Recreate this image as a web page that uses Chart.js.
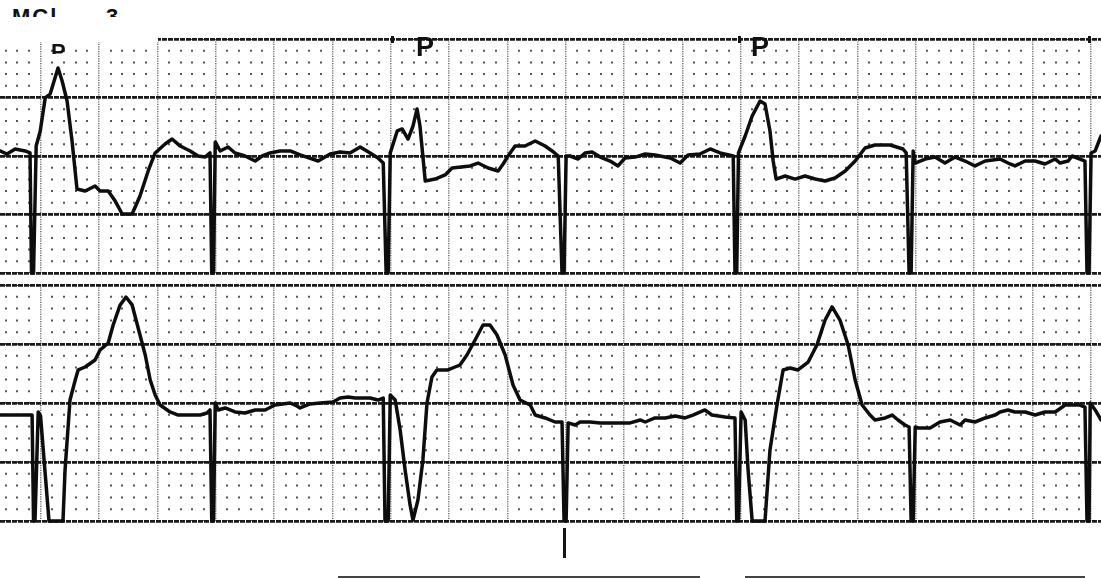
<!DOCTYPE html>
<html>
<head>
<meta charset="utf-8">
<title>MCl 3</title>
<script src="https://cdn.jsdelivr.net/npm/chart.js@4.4.1/dist/chart.umd.min.js"></script>
<style>
  html, body { margin: 0; padding: 0; background: #fff; }
  body { width: 1101px; height: 578px; position: relative; overflow: hidden;
         font-family: "Liberation Sans", Arial, Helvetica, sans-serif; }
  canvas { position: absolute; left: -3px; }
  .txt { position: absolute; overflow: hidden; color: #111; font-weight: 700; white-space: nowrap; z-index: 3; }
  .mark { position: absolute; background: #151515; z-index: 2; }
  .mask { position: absolute; background: #fff; z-index: 1; }
</style>
</head>
<body>
<canvas id="topStrip" width="1107" height="240" style="top:36px"></canvas>
<canvas id="bottomStrip" width="1107" height="242" style="top:282px"></canvas>

<!-- paper edge: the top rule is missing at the far left -->
<div class="mask" style="left:0;top:35px;width:158px;height:7px"></div>

<div class="txt" style="left:12px;top:6px;height:11px;font-size:22px;line-height:22px;letter-spacing:2px">MCl</div>
<div class="txt" style="left:106px;top:6px;height:11px;font-size:22px;line-height:22px">3</div>
<div class="txt" style="left:51px;top:41px;height:13px;font-size:22px;line-height:22px">P</div>
<div class="txt" style="left:416px;top:34px;height:27px;font-size:27px;line-height:27px">P</div>
<div class="txt" style="left:751px;top:34px;height:27px;font-size:27px;line-height:27px">P</div>

<div class="mark" style="left:391px;top:36px;width:3px;height:7px"></div>
<div class="mark" style="left:738px;top:36px;width:3px;height:7px"></div>
<div class="mark" style="left:1088px;top:36px;width:3px;height:7px"></div>
<div class="mark" style="left:563px;top:528px;width:3px;height:30px"></div>
<div class="mark" style="left:338px;top:576px;width:362px;height:2px;background:#444"></div>
<div class="mark" style="left:745px;top:576px;width:340px;height:2px;background:#444"></div>

<script>
// Zeitachse in Sekunden (25 mm/s), Amplitude in mV (10 mm/mV)
const xMin = -0.14;
const xMax = 3.635;
const yMin = -1.0;
const yMax = 1.0;

// obere Ableitung
const topTime = [
  -0.140, -0.116, -0.088, -0.054, -0.037, -0.032, -0.025,
  -0.016, -0.002, 0.015, 0.032, 0.059, 0.073, 0.090, 0.107, 0.124, 0.152, 0.186, 0.203, 0.231, 0.255,
  0.279, 0.313, 0.340, 0.368, 0.392, 0.426, 0.450, 0.478, 0.512, 0.539, 0.563, 0.580, 0.586, 0.592,
  0.598, 0.615, 0.642, 0.666, 0.700, 0.735, 0.759, 0.786, 0.820, 0.855, 0.889, 0.951, 0.992, 1.026,
  1.060, 1.095, 1.129, 1.156, 1.174, 1.184, 1.191,
  1.198, 1.222, 1.239, 1.259, 1.276, 1.290, 1.300, 1.318, 1.352, 1.386, 1.410, 1.472, 1.499, 1.534,
  1.568, 1.585, 1.602, 1.626, 1.660, 1.695, 1.729, 1.753, 1.774, 1.787, 1.794,
  1.801, 1.815, 1.842, 1.866, 1.890, 1.918, 1.952, 1.979, 2.003, 2.038, 2.072, 2.106, 2.123, 2.158,
  2.192, 2.219, 2.260, 2.295, 2.329, 2.374, 2.380, 2.386,
  2.392, 2.415, 2.439, 2.466, 2.483, 2.500, 2.511, 2.521, 2.552, 2.586, 2.620, 2.655, 2.689, 2.723,
  2.758, 2.792, 2.826, 2.860, 2.912, 2.956, 2.967, 2.977, 2.984,
  2.991, 2.998, 3.032, 3.066, 3.100, 3.135, 3.169, 3.203, 3.238, 3.289, 3.323, 3.340, 3.375, 3.409,
  3.443, 3.478, 3.495, 3.522, 3.536, 3.563, 3.580, 3.587, 3.594,
  3.601, 3.615, 3.635
];
const topMv = [
  0.043, 0.017, 0.060, 0.043, 0.026, -1.0, -1.0,
  0.085, 0.214, 0.496, 0.530, 0.752, 0.641, 0.470, 0.128, -0.282, -0.299, -0.256, -0.299, -0.299, -0.385,
  -0.496, -0.496, -0.342, -0.128, 0.026, 0.103, 0.145, 0.085, 0.043, 0, -0.009, 0.026, -1.0, -1.0,
  0.120, 0.043, 0.077, 0.026, 0, -0.043, 0, 0.026, 0.043, 0.043, 0.009, -0.043, 0.017, 0.034,
  0.026, 0.077, 0.026, -0.017, -0.060, -1.0, -1.0,
  0.026, 0.214, 0.231, 0.145, 0.256, 0.402, 0.256, -0.214, -0.197, -0.162, -0.103, -0.085, -0.060, -0.103,
  -0.128, -0.068, 0, 0.085, 0.085, 0.128, 0.085, 0.043, 0, -1.0, -1.0,
  0, 0, -0.026, 0.026, 0.034, -0.009, -0.043, -0.085, -0.017, -0.009, 0.017, 0.009, 0, -0.017,
  -0.060, 0.009, 0.017, 0.060, 0.026, 0, -1.0, -1.0,
  0.026, 0.171, 0.342, 0.470, 0.444, 0.214, -0.043, -0.197, -0.171, -0.197, -0.171, -0.197, -0.214, -0.188,
  -0.128, -0.043, 0.068, 0.094, 0.094, 0.060, 0.026, -1.0, -1.0,
  0.043, -0.060, -0.026, -0.009, -0.060, -0.009, -0.043, -0.085, -0.043, -0.026, -0.068, -0.085, -0.043, -0.043,
  -0.068, -0.026, -0.060, -0.043, 0, -0.026, -0.043, -1.0, -1.0,
  0.026, 0.043, 0.171
];

// untere Ableitung
const bottomTime = [
  -0.140, -0.030, -0.025, -0.020, -0.009, -0.001, 0.028, 0.076,
  0.083, 0.100, 0.118, 0.128, 0.152, 0.186, 0.203, 0.231, 0.248, 0.272, 0.292, 0.313, 0.340, 0.358,
  0.375, 0.392, 0.409, 0.443, 0.471, 0.512, 0.546, 0.570, 0.580,
  0.586, 0.592, 0.598, 0.608, 0.632, 0.666, 0.700, 0.735, 0.769, 0.803, 0.855, 0.872, 0.889, 0.923,
  0.958, 1.002, 1.026, 1.054, 1.078, 1.129, 1.156, 1.174,
  1.180, 1.191, 1.198, 1.215, 1.232, 1.249, 1.266, 1.276, 1.293, 1.310, 1.324, 1.341, 1.358, 1.396,
  1.420, 1.437, 1.461, 1.489, 1.516, 1.540, 1.564, 1.592, 1.619, 1.643, 1.678, 1.695, 1.729, 1.763, 1.787,
  1.794, 1.801, 1.808, 1.832, 1.849, 1.883, 1.918, 1.969, 2.021, 2.055, 2.072, 2.106, 2.141, 2.175,
  2.209, 2.236, 2.277, 2.301, 2.346, 2.380,
  2.386, 2.392, 2.401, 2.415, 2.425, 2.439, 2.483, 2.500, 2.524, 2.545, 2.569, 2.596, 2.631, 2.661,
  2.689, 2.713, 2.740, 2.768, 2.792, 2.816, 2.843, 2.860, 2.895, 2.919, 2.939, 2.963, 2.977,
  2.984, 2.991, 2.998, 3.008, 3.049, 3.083, 3.118, 3.152, 3.169, 3.203, 3.238, 3.272, 3.289, 3.316,
  3.340, 3.375, 3.409, 3.443, 3.478, 3.512, 3.563, 3.580,
  3.587, 3.594, 3.598, 3.615, 3.635
];
const bottomMv = [
  -0.102, -0.102, -1.0, -1.0, -0.076, -0.110, -1.0, -1.0,
  -0.568, 0.025, 0.195, 0.280, 0.305, 0.364, 0.449, 0.508, 0.661, 0.831, 0.898, 0.831, 0.576, 0.407,
  0.195, 0.068, -0.017, -0.076, -0.102, -0.102, -0.102, -0.085, -0.059,
  -1.0, -1.0, 0, -0.059, -0.042, -0.076, -0.085, -0.059, -0.059, -0.017, 0, -0.017, -0.042, -0.008,
  0, 0.008, 0.042, 0.051, 0.042, 0.042, 0.025, 0.042,
  -1.0, -1.0, 0.068, 0.025, -0.229, -0.568, -0.864, -0.992, -0.822, -0.483, 0, 0.220, 0.280, 0.280,
  0.305, 0.322, 0.407, 0.534, 0.661, 0.661, 0.576, 0.407, 0.153, 0.025, -0.017, -0.102, -0.127, -0.161, -0.161,
  -1.0, -1.0, -0.169, -0.186, -0.161, -0.161, -0.169, -0.169, -0.169, -0.144, -0.161, -0.127, -0.127, -0.110,
  -0.127, -0.102, -0.059, -0.102, -0.119, -0.127,
  -1.0, -1.0, -0.076, -0.144, -0.568, -1.0, -1.0, -0.398, -0.017, 0.280, 0.297, 0.280, 0.347, 0.492,
  0.703, 0.814, 0.703, 0.492, 0.195, -0.017, -0.102, -0.144, -0.127, -0.102, -0.144, -0.186, -0.203,
  -1.0, -1.0, -0.203, -0.212, -0.212, -0.161, -0.144, -0.186, -0.144, -0.161, -0.127, -0.102, -0.076, -0.059,
  -0.076, -0.076, -0.102, -0.076, -0.076, -0.017, -0.017, -0.034,
  -1.0, -1.0, 0, -0.059, -0.144
];

const PAD = 3;

// Rasterlinien: grosses Kaestchen 0,2 s / 0,5 mV, kleines 0,04 s / 0,1 mV
function gridTicks(min, max, step, skipEvery) {
  const ticks = [];
  for (let k = Math.ceil(min / step - 1e-9); k * step <= max + 1e-9; k++) {
    if (skipEvery && k % skipEvery === 0) continue;
    ticks.push({ value: +(k * step).toFixed(4) });
  }
  return ticks;
}

function drawStrip(id, times, values) {
  const canvas = document.getElementById(id);
  const dotStep = (canvas.height - 2 * PAD) / 20;
  return new Chart(canvas, {
    type: 'line',
    data: {
      datasets: [{
        data: times.map((t, i) => ({ x: t, y: values[i] })),
        xAxisID: 'x',
        yAxisID: 'y',
        borderColor: '#0d0d0d',
        borderWidth: 3.5,
        borderJoinStyle: 'round',
        borderCapStyle: 'round',
        pointRadius: 0,
        tension: 0,
        clip: 4
      }]
    },
    options: {
      responsive: false,
      animation: false,
      events: [],
      layout: { padding: PAD },
      plugins: { legend: { display: false }, tooltip: { enabled: false } },
      scales: {
        x: {
          type: 'linear', min: xMin, max: xMax,
          ticks: { display: false, autoSkip: false },
          afterBuildTicks: s => { s.ticks = gridTicks(xMin, xMax, 0.2); },
          grid: { color: '#707070', lineWidth: 1.5, drawTicks: false },
          border: { display: false, dash: [1.2, 1.2] }
        },
        xDots: {
          type: 'linear', axis: 'x', position: 'bottom', min: xMin, max: xMax,
          ticks: { display: false, autoSkip: false },
          afterBuildTicks: s => { s.ticks = gridTicks(xMin, xMax, 0.04, 5); },
          grid: { color: '#555', lineWidth: 2, drawTicks: false },
          border: { display: false, dash: [2, dotStep - 2], dashOffset: 1 }
        },
        y: {
          type: 'linear', min: yMin, max: yMax,
          ticks: { display: false, autoSkip: false },
          afterBuildTicks: s => { s.ticks = gridTicks(yMin, yMax, 0.5); },
          grid: { color: '#1a1a1a', lineWidth: 2.8, drawTicks: false },
          border: { display: false, dash: [5, 1] }
        }
      }
    }
  });
}

const topChart = drawStrip('topStrip', topTime, topMv);
const bottomChart = drawStrip('bottomStrip', bottomTime, bottomMv);
</script>
</body>
</html>
